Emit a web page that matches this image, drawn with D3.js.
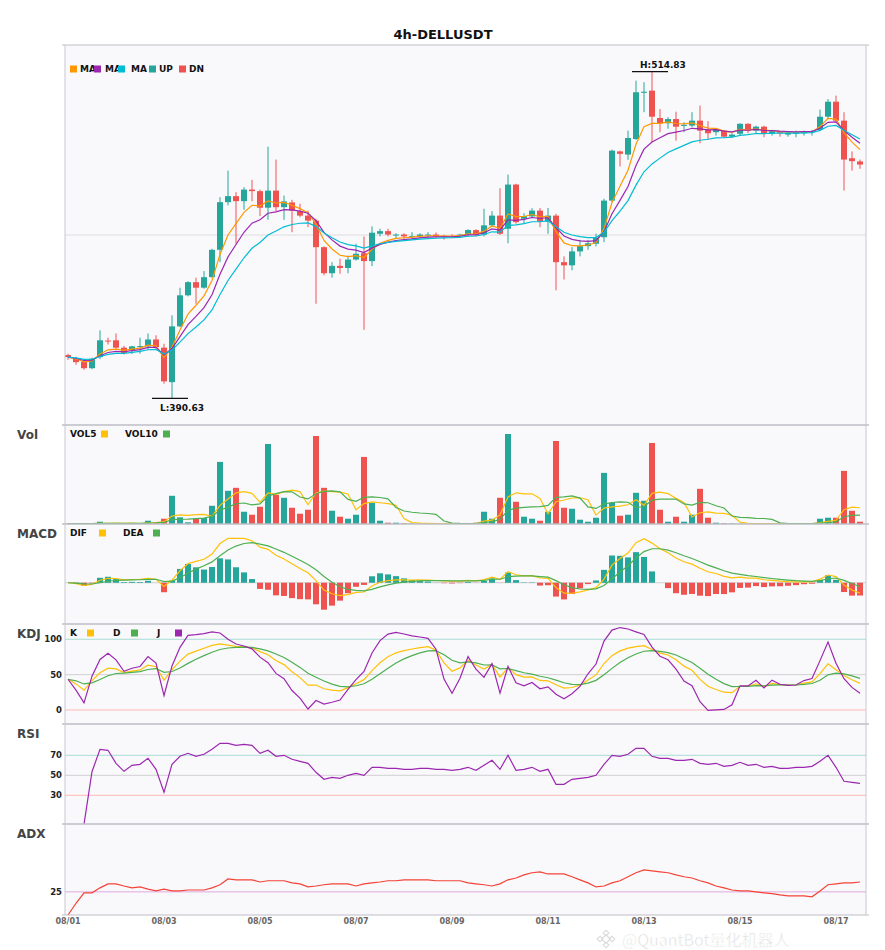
<!DOCTYPE html>
<html><head><meta charset="utf-8">
<script src="https://cdn.jsdelivr.net/npm/d3@7/dist/d3.min.js"></script>
<style>
body{margin:0;background:#fff;}
text{font-family:"DejaVu Sans",sans-serif;}
</style>
</head><body>
<svg id="chart" width="885" height="950"></svg>
<script>
// ---------------- data ----------------
const chartTitle = "4h-DELLUSDT";
const opens = [407.1,405.9,404.6,402.1,406.3,412.6,412.7,409.9,408.9,410.2,
410.4,413.0,409.9,396.8,418.0,429.8,434.8,432.7,436.7,447.1,
465.2,467.5,465.6,470.0,469.4,463.1,469.6,463.3,465.1,461.8,
460.1,458.2,448.1,438.2,441.0,440.2,443.4,445.8,442.8,453.2,
454.2,452.6,452.9,452.0,452.3,452.6,452.9,452.4,452.3,452.2,
452.9,454.6,452.9,456.4,460.1,455.1,471.9,458.9,459.8,462.0,
457.9,460.1,442.4,441.2,446.5,448.5,449.4,451.9,465.8,484.5,
483.3,489.2,506.8,507.6,497.2,495.2,496.8,494.2,494.3,496.2,
492.7,491.8,492.4,490.1,491.2,495.0,492.4,493.9,491.2,491.8,
490.9,491.4,491.4,491.9,492.7,497.7,503.4,496.2,481.9,480.7];
const highs = [407.6,406.4,405.3,406.1,416.5,413.7,415.3,410.6,410.6,413.7,
415.3,414.6,411.4,422.2,432.7,435.2,436.5,439.0,447.5,467.1,
477.2,469.0,470.9,473.7,470.0,486.3,481.4,467.7,466.1,464.6,
462.0,458.9,448.4,442.4,443.7,444.9,449.4,452.2,456.0,455.1,
455.1,453.4,453.4,453.8,453.4,453.8,453.7,452.8,453.0,453.2,
454.9,454.9,462.7,461.8,470.5,475.7,472.2,461.0,462.9,463.0,
463.0,460.8,444.6,448.1,450.9,450.9,453.2,466.5,485.2,484.8,
492.4,511.4,510.8,514.83,500.6,497.5,499.6,495.6,499.4,501.9,
496.0,493.4,492.7,491.4,495.2,495.2,494.3,494.3,492.7,492.2,
492.2,492.4,492.4,492.7,500.4,504.4,505.7,499.4,484.5,481.4];
const lows = [405.3,403.4,401.5,401.7,405.6,411.1,409.5,407.3,407.5,407.6,
409.0,409.5,396.2,390.63,417.7,429.4,426.6,432.3,436.5,442.4,
464.0,449.4,462.3,465.6,459.9,458.5,461.8,458.5,453.8,459.5,
455.7,426.6,437.4,436.5,438.0,438.2,443.0,416.7,440.9,452.2,
452.2,451.3,451.3,450.9,451.5,451.9,451.7,451.0,451.7,451.9,
452.2,452.2,452.2,455.7,452.8,449.6,457.0,457.0,459.1,455.7,
453.2,431.7,435.8,439.3,444.6,447.1,448.4,450.0,465.2,478.8,
481.3,488.9,499.4,488.0,491.8,493.1,488.6,491.8,493.7,487.6,
488.9,490.5,489.9,489.6,490.5,491.4,491.4,489.9,490.5,490.1,
490.1,489.9,490.5,490.5,492.2,496.8,495.6,469.6,477.2,477.9];
const closes = [406.3,404.4,402.1,405.7,412.7,412.3,409.9,407.9,410.4,410.5,
413.0,410.1,397.1,418.0,429.8,434.8,432.7,436.7,447.1,465.2,
467.5,465.6,470.0,469.4,463.1,469.6,463.3,465.5,462.0,460.1,
458.2,448.1,438.2,441.0,440.2,443.4,445.6,442.8,453.6,454.2,
452.9,452.9,452.2,452.3,452.9,452.9,452.2,452.2,452.2,452.9,
454.6,452.9,456.4,460.1,453.2,471.9,457.6,459.9,462.0,457.9,
460.1,442.4,441.2,446.5,448.5,449.6,451.7,465.8,484.8,483.6,
489.6,507.0,507.2,497.7,495.2,496.8,493.9,494.6,496.2,492.4,
491.4,493.0,490.1,490.9,495.0,492.4,493.9,491.2,492.2,491.4,
491.5,491.6,492.2,492.2,497.7,503.4,496.2,481.4,480.8,479.5];
const volumes = [0.3,0.3,0.5,0.3,2.3,0.3,0.5,0.3,0.5,1.0,
3.3,1.7,5.3,28.3,6.7,1.7,5.3,6.0,18.3,62.3,
33.3,36.3,12.3,9.3,17.3,80.3,29.3,26.3,16.3,10.3,
14.3,88.3,36.3,13.3,7.3,5.3,9.3,67.3,21.3,3.3,
1.3,1.3,0.7,0.5,0.3,0.3,0.3,0.2,0.2,0.3,
0.5,1.3,12.3,5.3,26.3,90.3,22.3,7.3,5.3,3.3,
12.3,83.3,16.3,15.3,4.3,2.3,6.3,51.3,21.3,8.3,
9.3,31.3,23.3,81.3,14.3,2.3,7.3,2.3,9.3,35.3,
6.3,1.3,0.7,0.5,0.3,0.3,0.3,1.0,0.3,0.2,
0.2,0.3,0.3,0.5,5.3,6.3,6.3,53.3,13.3,2.3];
const rsiValues = [null,null,1,53.6,76,75,62,54,60,61,
67,56,33,61,69,72,69,71,76,82,
82,80,81,80,72,75,69,70,66,64,
62,53,46,48,47,50,52,50,58,58,
57,57,56,56,57,57,56,56,55,56,
58,55,60,65,56,70,55,56,58,54,
56,41,41,46,47,48,50,61,70,69,
71,77,77,69,67,67,65,65,66,62,
61,62,59,60,63,60,61,58,59,57,
57,58,58,59,64,70,58,44,43,42];
const adxValues = [17.5,21.3,24.7,24.7,26.3,27.6,27.6,26.9,26.3,26.6,
25.9,25.3,25.9,25.3,25.3,25.6,25.6,25.6,26.3,27.3,
29.2,28.9,28.9,28.9,28.2,28.6,28.6,28.6,27.9,27.6,
26.6,26.9,27.3,27.6,27.6,27.6,26.9,27.6,27.9,28.2,
28.6,28.6,28.9,28.9,28.9,28.9,28.6,28.6,28.6,28.6,
27.9,27.6,27.3,26.9,27.6,28.9,29.5,30.5,31.2,31.5,
30.8,30.8,30.8,29.9,28.9,27.9,26.6,26.9,27.9,28.6,
29.9,31.2,32.1,31.8,31.5,31.2,30.5,29.9,29.5,28.6,
27.9,26.9,26.3,25.6,25.3,25.3,25.0,24.7,24.4,24.0,
23.7,23.7,23.7,23.4,25.3,27.3,27.6,27.9,27.9,28.2];
const tickIndex = [0,12,24,36,48,60,72,84,96];
const tickLabels = ["08/01","08/03","08/05","08/07","08/09","08/11","08/13","08/15","08/17"];
const maPeriods = [5,8,13];        // EMA spans of the three price lines
const volPeriods = [5,10];
const macdParams = [5,13,5];       // fast, slow, signal
const kdjLevels = [100,50,0];
const rsiLevels = [70,50,30];
const adxLevels = [25];

// ---------------- indicators (derived from the data above) ----------------
function sma(a,n){return a.map((_,i)=>d3.mean(a.slice(Math.max(0,i-n+1),i+1)));}
function ema(a,n){const k=2/(n+1);let e=a[0];return a.map((v,i)=>{if(i>0)e=v*k+e*(1-k);return e;});}
const maLines = maPeriods.map(p=>ema(closes,p));
const volLines = volPeriods.map(p=>sma(volumes,p));
const emaF=ema(closes,macdParams[0]), emaS=ema(closes,macdParams[1]);
const dif = emaF.map((v,i)=>v-emaS[i]);
const dea = ema(dif,macdParams[2]);
const macdHist = dif.map((v,i)=>2*(v-dea[i]));
const rsv = closes.map((c,i)=>{const lo=d3.min(lows.slice(Math.max(0,i-8),i+1)),hi=d3.max(highs.slice(Math.max(0,i-8),i+1));return hi===lo?50:(c-lo)/(hi-lo)*100;});
const kArr=[],dArr=[],jArr=[];
rsv.forEach((r,i)=>{const k=i===0?r:kArr[i-1]*2/3+r/3;const d=i===0?k:dArr[i-1]*2/3+k/3;kArr.push(k);dArr.push(d);jArr.push(3*k-2*d);});

// ---------------- layout ----------------
const svg=d3.select("#chart");
const L=65,R=866;
const C={up:"#26a69a",dn:"#ef5350",ma:["#ff9800","#9c27b0","#00bcd4"],y:"#ffc107",g:"#4caf50",p:"#9c27b0",adx:"#f44336"};
const panels=[
 {id:"main",t:45,b:425,label:null},
 {id:"vol",t:425,b:524,label:"Vol"},
 {id:"macd",t:524,b:624,label:"MACD"},
 {id:"kdj",t:624,b:724,label:"KDJ"},
 {id:"rsi",t:724,b:824,label:"RSI"},
 {id:"adx",t:824,b:915,label:"ADX"}];
const N=closes.length;
const x=d3.scaleLinear().domain([0,N-1]).range([68,860]);

svg.append("rect").attr("width",885).attr("height",950).attr("fill","#fff");
const defs=svg.append("defs");
panels.forEach(p=>{
  svg.append("rect").attr("x",L).attr("y",p.t).attr("width",R-L).attr("height",p.b-p.t).attr("fill","#f9f9fb");
  defs.append("clipPath").attr("id","clip-"+p.id).append("rect").attr("x",L).attr("y",p.t).attr("width",R-L).attr("height",p.b-p.t);
  if(p.label) svg.append("text").attr("x",17).attr("y",p.t+14).attr("font-size",12).attr("font-weight","bold").attr("fill","#444").text(p.label);
});
const G={};
panels.forEach(p=>{G[p.id]=svg.append("g").attr("clip-path","url(#clip-"+p.id+")");});

function hline(g,y,color){g.append("line").attr("x1",L).attr("x2",R).attr("y1",y).attr("y2",y).attr("stroke",color).attr("stroke-width",1);}
function path(g,vals,y,color,w){
  const ln=d3.line().defined(d=>d!=null).x((d,i)=>x(i)).y(d=>y(d));
  g.append("path").datum(vals).attr("d",ln).attr("fill","none").attr("stroke",color).attr("stroke-width",w||1.2);
}
function legend(items,yc){
  items.forEach(it=>{
    if(it.text) svg.append("text").attr("x",it.tx).attr("y",yc+3.3).attr("font-size",9).attr("font-weight","bold").attr("fill","#111").text(it.text);
    svg.append("rect").attr("x",it.sx).attr("y",yc-3.5).attr("width",7).attr("height",7).attr("fill",it.c);
  });
}
function yTicks(levels,y){
  levels.forEach(v=>svg.append("text").attr("x",62).attr("y",y(v)+3).attr("text-anchor","end").attr("font-size",8.5).attr("font-weight","bold").attr("fill","#222").text(v));
}

// ---------------- main panel ----------------
const lo=d3.min(lows),hi=d3.max(highs),pad=(hi-lo)*0.0815;
const yP=d3.scaleLinear().domain([lo-pad,hi+pad]).range([425,45]);
const gm=G.main;
hline(gm,yP((lo+hi)/2),"#dcdce0");
closes.forEach((c,i)=>{
  const o=opens[i],col=c>=o?C.up:C.dn;
  gm.append("line").attr("x1",x(i)).attr("x2",x(i)).attr("y1",yP(highs[i])).attr("y2",yP(lows[i])).attr("stroke",col).attr("stroke-width",1);
  const y0=yP(Math.max(o,c)),h=Math.max(1,Math.abs(yP(o)-yP(c)));
  gm.append("rect").attr("x",x(i)-3).attr("y",y0).attr("width",6).attr("height",h).attr("fill",col);
});
maLines.forEach((m,k)=>path(gm,m,yP,C.ma[k],1.2));
const iH=highs.indexOf(hi),iL=lows.indexOf(lo);
svg.append("line").attr("x1",x(iH)-20).attr("x2",x(iH)+16).attr("y1",yP(hi)).attr("y2",yP(hi)).attr("stroke","#111").attr("stroke-width",1.3);
svg.append("text").attr("x",x(iH)-12).attr("y",yP(hi)-3.5).attr("font-size",9).attr("font-weight","bold").attr("fill","#111").text("H:"+hi.toFixed(2));
svg.append("line").attr("x1",x(iL)-20).attr("x2",x(iL)+16).attr("y1",yP(lo)).attr("y2",yP(lo)).attr("stroke","#111").attr("stroke-width",1.3);
svg.append("text").attr("x",x(iL)-12).attr("y",yP(lo)+12.5).attr("font-size",9).attr("font-weight","bold").attr("fill","#111").text("L:"+lo.toFixed(2));
legend([{sx:70,tx:80,text:"MA",c:C.ma[0]},{sx:94,tx:105,text:"MA",c:C.ma[1]},{sx:118,tx:131,text:"MA",c:C.ma[2]},{sx:149,tx:159,text:"UP",c:C.up},{sx:179,tx:189,text:"DN",c:C.dn}],69);

// ---------------- volume ----------------
const yV=d3.scaleLinear().domain([0,d3.max(volumes)*1.1]).range([524,425]);
volumes.forEach((v,i)=>{
  const col=closes[i]>=opens[i]?C.up:C.dn;
  G.vol.append("rect").attr("x",x(i)-3).attr("y",yV(v)).attr("width",6).attr("height",yV(0)-yV(v)).attr("fill",col);
});
path(G.vol,volLines[0],yV,C.y,1.2);
path(G.vol,volLines[1],yV,C.g,1.2);
legend([{sx:101,tx:70,text:"VOL5",c:C.y},{sx:163,tx:125,text:"VOL10",c:C.g}],434);

// ---------------- MACD ----------------
const mAll=dif.concat(dea,macdHist);
const mMin=d3.min(mAll),mMax=d3.max(mAll),mExt=mMax-mMin;
const yM=d3.scaleLinear().domain([mMin-0.2*mExt,mMax+0.2*mExt]).range([624,524]);
hline(G.macd,yM(0),"#d0d0d4");
macdHist.forEach((h,i)=>{
  G.macd.append("rect").attr("x",x(i)-3).attr("y",Math.min(yM(h),yM(0))).attr("width",6).attr("height",Math.abs(yM(h)-yM(0))).attr("fill",h>=0?C.up:C.dn);
});
path(G.macd,dif,yM,C.y,1.2);
path(G.macd,dea,yM,C.g,1.2);
legend([{sx:99,tx:70,text:"DIF",c:C.y},{sx:153,tx:123,text:"DEA",c:C.g}],533);

// ---------------- KDJ ----------------
const yK=d3.scaleLinear().domain([-19.8,121.6]).range([724,624]);
hline(G.kdj,yK(100),"#a8dcd5");hline(G.kdj,yK(50),"#d0d0d4");hline(G.kdj,yK(0),"#ffb8b8");
path(G.kdj,kArr,yK,C.y,1.2);path(G.kdj,dArr,yK,C.g,1.2);path(G.kdj,jArr,yK,C.p,1.2);
yTicks(kdjLevels,yK);
legend([{sx:87,tx:70,text:"K",c:C.y},{sx:131,tx:113,text:"D",c:C.g},{sx:175,tx:157,text:"J",c:C.p}],633);

// ---------------- RSI ----------------
const yR=d3.scaleLinear().domain([0,100]).range([825.3,725.3]);
hline(G.rsi,yR(70),"#a8dcd5");hline(G.rsi,yR(50),"#d0d0d4");hline(G.rsi,yR(30),"#ffb8b8");
path(G.rsi,rsiValues,yR,C.p,1.2);
yTicks(rsiLevels,yR);

// ---------------- ADX ----------------
const yA=d3.scaleLinear().domain([17.5,47]).range([915,824]);
hline(G.adx,yA(25),"#dfa8e0");
path(G.adx,adxValues,yA,C.adx,1.2);
yTicks(adxLevels,yA);

// ---------------- borders ----------------
panels.forEach(p=>{
  [p.t,p.b].forEach(yy=>{
    svg.append("line").attr("x1",L).attr("x2",R).attr("y1",yy).attr("y2",yy).attr("stroke","#bdbdc6").attr("stroke-width",1);
    svg.append("line").attr("x1",L-3).attr("x2",L).attr("y1",yy).attr("y2",yy).attr("stroke","#bdbdc6");
    svg.append("line").attr("x1",R).attr("x2",R+3).attr("y1",yy).attr("y2",yy).attr("stroke","#bdbdc6");
  });
});
svg.append("line").attr("x1",L).attr("x2",L).attr("y1",45).attr("y2",915).attr("stroke","#c8c8d0");
svg.append("line").attr("x1",R).attr("x2",R).attr("y1",45).attr("y2",915).attr("stroke","#c8c8d0");

// ---------------- x axis & title ----------------
tickIndex.forEach((ti,k)=>svg.append("text").attr("x",x(ti)).attr("y",924).attr("text-anchor","middle").attr("font-size",8).attr("font-weight","bold").attr("fill","#666").text(tickLabels[k]));
svg.append("text").attr("x",443).attr("y",39).attr("text-anchor","middle").attr("font-size",13).attr("font-weight","bold").attr("fill","#111").text(chartTitle);

// watermark (kept just below the date labels)
const wm=svg.append("g").attr("opacity",0.55);
const cx=606,cy=939;
[[0,-6],[-6,0],[6,0],[0,6],[0,0]].forEach(([dx,dy],k)=>{
  const s=k===4?6:4;
  wm.append("rect").attr("x",cx+dx-s/2).attr("y",cy+dy-s/2).attr("width",s).attr("height",s)
    .attr("transform",`rotate(45,${cx+dx},${cy+dy})`).attr("fill","none").attr("stroke","#bbb").attr("stroke-width",1.1);
});
wm.append("text").attr("x",622).attr("y",946).attr("font-size",16).attr("fill","#c4c4c4").attr("stroke","#fff").attr("stroke-width",0.5)
  .style("font-family","'Noto Sans CJK SC','DejaVu Sans',sans-serif").text("@QuantBot量化机器人");
</script>
</body></html>
